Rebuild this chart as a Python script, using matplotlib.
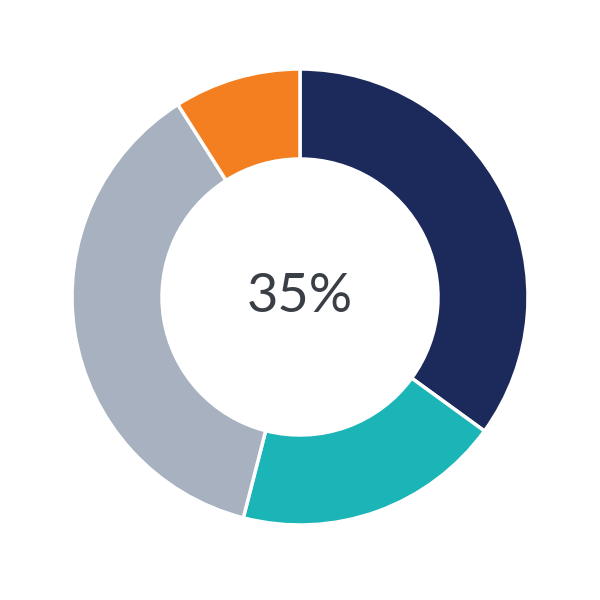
import matplotlib.pyplot as plt

shares = [35, 19, 37, 9]
colors = ['#1b2a5a', '#1bb5b8', '#a7b1bf', '#f37f21']
center_label = '35%'

fig = plt.figure(figsize=(6, 6), dpi=100)
ax = fig.add_axes([0, 0, 1, 1])
ax.set_aspect('equal')
ax.axis('off')

ax.pie(shares, colors=colors, startangle=90, counterclock=False,
       radius=228, center=(0, 3),
       wedgeprops=dict(width=90, edgecolor='white', linewidth=2.5))
ax.set_xlim(-300, 300)
ax.set_ylim(-300, 300)

ax.text(0, 3, center_label, ha='center', va='center', fontsize=39,
        color='#3a3f45', family=['Lato', 'DejaVu Sans'])

fig.savefig('out.png', dpi=100, facecolor='white')
